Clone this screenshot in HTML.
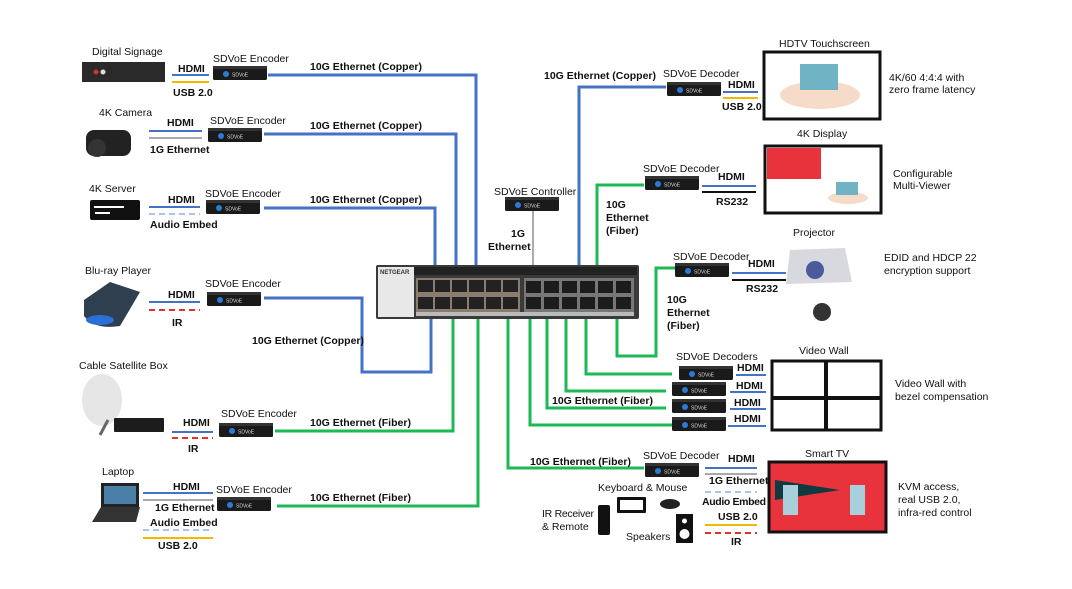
<!DOCTYPE html>
<html><head><meta charset="utf-8"><style>
html,body{margin:0;padding:0;background:#fff;}
svg{display:block;font-family:"Liberation Sans",sans-serif;}
.l{font-size:10.5px;fill:#111;}
.b{font-size:10.5px;font-weight:bold;fill:#111;}
</style></head><body>
<svg width="1072" height="589" viewBox="0 0 1072 589" xmlns="http://www.w3.org/2000/svg">
<defs>
<g id="enc">
<rect x="0" y="0" width="54" height="14" rx="1.5" fill="#1a1a1a"/>
<rect x="0" y="0" width="54" height="3" fill="#333"/>
<circle cx="13" cy="8" r="3" fill="#2b7bd6"/>
<text x="19" y="10.5" font-size="5" fill="#ddd">SDVoE</text>
</g>
</defs>

<g fill="none" stroke-width="3">
<path d="M268,75 H476 V265" stroke="#4472c4"/>
<path d="M264,134 H456 V265" stroke="#4472c4"/>
<path d="M264,208 H435 V265" stroke="#4472c4"/>
<path d="M264,298 H362 V372 H431 V319" stroke="#4472c4"/>
<path d="M275,431 H453 V319" stroke="#1db954"/>
<path d="M277,506 H478 V319" stroke="#1db954"/>
<path d="M508,319 V468 H644" stroke="#1db954"/>
<path d="M530,319 V425 H672" stroke="#1db954"/>
<path d="M547,319 V408 H666" stroke="#1db954"/>
<path d="M566,319 V391 H666" stroke="#1db954"/>
<path d="M586,319 V374 H672" stroke="#1db954"/>
<path d="M617,319 V356 H656 V268 H675" stroke="#1db954"/>
<path d="M579,265 V87 H666" stroke="#4472c4"/>
<path d="M597,265 V185 H644" stroke="#1db954"/>
</g>
<path d="M533,211 V265" stroke="#aaa" stroke-width="2"/>

<rect x="376" y="265" width="263" height="54" rx="2" fill="#3a3a3a"/>
<rect x="378" y="267" width="36" height="50" fill="#e8e8e8"/>
<text x="380" y="274" font-size="6" font-weight="bold" fill="#333">NETGEAR</text>
<rect x="414" y="267" width="223" height="8" fill="#222"/>
<rect x="416" y="278" width="104" height="34" fill="#8a7d70"/>
<g fill="#222">
<rect x="418" y="280" width="15" height="12"/><rect x="435" y="280" width="15" height="12"/><rect x="452" y="280" width="15" height="12"/><rect x="469" y="280" width="15" height="12"/><rect x="486" y="280" width="15" height="12"/><rect x="503" y="280" width="15" height="12"/>
<rect x="418" y="297" width="15" height="12"/><rect x="435" y="297" width="15" height="12"/><rect x="452" y="297" width="15" height="12"/><rect x="469" y="297" width="15" height="12"/><rect x="486" y="297" width="15" height="12"/><rect x="503" y="297" width="15" height="12"/>
</g>
<rect x="524" y="278" width="110" height="34" fill="#777"/>
<g fill="#1c1c1c">
<rect x="526" y="281" width="15" height="12"/><rect x="544" y="281" width="15" height="12"/><rect x="562" y="281" width="15" height="12"/><rect x="580" y="281" width="15" height="12"/><rect x="598" y="281" width="15" height="12"/><rect x="616" y="281" width="15" height="12"/>
<rect x="526" y="297" width="15" height="12"/><rect x="544" y="297" width="15" height="12"/><rect x="562" y="297" width="15" height="12"/><rect x="580" y="297" width="15" height="12"/><rect x="598" y="297" width="15" height="12"/><rect x="616" y="297" width="15" height="12"/>
</g>
<rect x="416" y="312" width="218" height="4" fill="#bbb"/>

<use href="#enc" x="213" y="66"/>
<use href="#enc" x="208" y="128"/>
<use href="#enc" x="206" y="200"/>
<use href="#enc" x="207" y="292"/>
<use href="#enc" x="219" y="423"/>
<use href="#enc" x="217" y="497"/>
<use href="#enc" x="505" y="197"/>
<use href="#enc" x="667" y="82"/>
<use href="#enc" x="645" y="176"/>
<use href="#enc" x="675" y="263"/>
<use href="#enc" x="679" y="366"/>
<use href="#enc" x="672" y="382"/>
<use href="#enc" x="672" y="399"/>
<use href="#enc" x="672" y="417"/>
<use href="#enc" x="645" y="463"/>

<rect x="82" y="62" width="83" height="20" fill="#2a2a2a"/>
<circle cx="96" cy="72" r="2.5" fill="#c33"/><circle cx="103" cy="72" r="2.5" fill="#ddd"/>
<rect x="86" y="130" width="45" height="26" rx="8" fill="#222"/><circle cx="97" cy="148" r="9" fill="#333"/>
<rect x="90" y="200" width="50" height="20" rx="2" fill="#111"/><rect x="94" y="206" width="30" height="2" fill="#fff"/><rect x="95" y="212" width="15" height="2" fill="#fff"/>
<path d="M84,300 L110,282 L140,292 L120,326 Q95,330 84,316 Z" fill="#2f3f4f"/><ellipse cx="100" cy="320" rx="14" ry="5" fill="#2b6fd8"/>
<ellipse cx="102" cy="400" rx="20" ry="26" fill="#e6e6e6"/>
<rect x="114" y="418" width="50" height="14" rx="1" fill="#1c1c1c"/>
<path d="M100,435 L108,420" stroke="#666" stroke-width="3"/>
<rect x="101" y="483" width="38" height="24" fill="#222"/><rect x="104" y="486" width="32" height="18" fill="#4a7fa8"/>
<path d="M92,522 L101,507 L140,507 L136,522 Z" fill="#333"/>

<g stroke-width="2" fill="none">
<path d="M172,75 H209" stroke="#4472c4"/><path d="M172,82 H209" stroke="#f5b800"/>
<path d="M149,131 H202" stroke="#4472c4"/><path d="M149,138 H202" stroke="#aaa"/>
<path d="M149,207 H200" stroke="#4472c4"/><path d="M149,214 H200" stroke="#a9c4ee" stroke-dasharray="6,4"/>
<path d="M149,302 H200" stroke="#4472c4"/><path d="M149,310 H200" stroke="#e53030" stroke-dasharray="6,4"/>
<path d="M172,432 H213" stroke="#4472c4"/><path d="M172,438 H213" stroke="#e53030" stroke-dasharray="6,4"/>
<path d="M143,493 H213" stroke="#4472c4"/><path d="M143,500 H213" stroke="#aaa"/>
<path d="M143,530 H213" stroke="#a9c4ee" stroke-dasharray="6,4"/><path d="M143,538 H213" stroke="#f5b800"/>
<path d="M723,92 H758" stroke="#4472c4"/><path d="M723,98 H758" stroke="#f5b800"/>
<path d="M702,186 H756" stroke="#4472c4"/><path d="M702,192 H756" stroke="#111"/>
<path d="M732,273 H786" stroke="#4472c4"/><path d="M732,280 H786" stroke="#111"/>
<path d="M736,375 H766" stroke="#4472c4"/><path d="M730,392 H766" stroke="#4472c4"/><path d="M730,409 H766" stroke="#4472c4"/><path d="M728,426 H766" stroke="#4472c4"/>
<path d="M705,468 H757" stroke="#4472c4"/><path d="M705,474 H757" stroke="#aaa"/>
<path d="M705,492 H757" stroke="#a9c4ee" stroke-dasharray="6,4"/><path d="M705,525 H757" stroke="#f5b800"/>
<path d="M705,533 H757" stroke="#e53030" stroke-dasharray="6,4"/>
</g>

<rect x="764" y="52" width="116" height="67" fill="#fff" stroke="#111" stroke-width="3"/>
<ellipse cx="820" cy="95" rx="40" ry="14" fill="#f6dcc8"/><rect x="800" y="64" width="38" height="26" fill="#6fb3c4"/>
<rect x="765" y="146" width="116" height="67" fill="#fff" stroke="#111" stroke-width="3"/>
<rect x="767" y="148" width="54" height="31" fill="#e8323c"/>
<ellipse cx="848" cy="198" rx="20" ry="6" fill="#f6dcc8"/><rect x="836" y="182" width="22" height="13" fill="#6fb3c4"/>
<path d="M790,250 L845,248 L852,282 L786,284 Z" fill="#d8d8df"/><circle cx="815" cy="270" r="9" fill="#4a5a9a"/>
<circle cx="822" cy="312" r="9" fill="#333"/>
<rect x="772" y="361" width="109" height="69" fill="#fff" stroke="#111" stroke-width="3"/>
<path d="M826,361 V430 M772,398 H881" stroke="#111" stroke-width="4"/>
<rect x="769" y="462" width="117" height="70" fill="#e8323c" stroke="#111" stroke-width="3"/>
<path d="M775,480 L840,490 L775,500 Z" fill="#0f3a40"/>
<rect x="783" y="485" width="15" height="30" fill="#a8d0dc"/><rect x="850" y="485" width="15" height="30" fill="#a8d0dc"/>
<rect x="617" y="497" width="29" height="16" rx="1" fill="#111"/><rect x="620" y="500" width="23" height="10" fill="#fff"/>
<ellipse cx="670" cy="504" rx="10" ry="5" fill="#222"/>
<rect x="598" y="505" width="12" height="30" rx="2" fill="#111"/>
<rect x="676" y="514" width="17" height="29" fill="#111"/><circle cx="684.5" cy="534" r="5" fill="#fff"/><circle cx="684.5" cy="521" r="2.5" fill="#fff"/>

<text class="l" x="92" y="55">Digital Signage</text>
<text class="l" x="213" y="62">SDVoE Encoder</text>
<text class="b" x="178" y="72">HDMI</text>
<text class="b" x="173" y="96">USB 2.0</text>
<text class="b" x="310" y="70">10G Ethernet (Copper)</text>
<text class="l" x="99" y="116">4K Camera</text>
<text class="l" x="210" y="124">SDVoE Encoder</text>
<text class="b" x="167" y="126">HDMI</text>
<text class="b" x="150" y="153">1G Ethernet</text>
<text class="b" x="310" y="129">10G Ethernet (Copper)</text>
<text class="l" x="89" y="192">4K Server</text>
<text class="l" x="205" y="197">SDVoE Encoder</text>
<text class="b" x="168" y="203">HDMI</text>
<text class="b" x="150" y="228">Audio Embed</text>
<text class="b" x="310" y="203">10G Ethernet (Copper)</text>
<text class="l" x="85" y="274">Blu-ray Player</text>
<text class="l" x="205" y="287">SDVoE Encoder</text>
<text class="b" x="168" y="298">HDMI</text>
<text class="b" x="172" y="326">IR</text>
<text class="b" x="252" y="344">10G Ethernet (Copper)</text>
<text class="l" x="79" y="369">Cable Satellite Box</text>
<text class="l" x="221" y="417">SDVoE Encoder</text>
<text class="b" x="183" y="426">HDMI</text>
<text class="b" x="188" y="452">IR</text>
<text class="b" x="310" y="426">10G Ethernet (Fiber)</text>
<text class="l" x="102" y="475">Laptop</text>
<text class="l" x="216" y="493">SDVoE Encoder</text>
<text class="b" x="173" y="490">HDMI</text>
<text class="b" x="155" y="511">1G Ethernet</text>
<text class="b" x="150" y="526">Audio Embed</text>
<text class="b" x="158" y="549">USB 2.0</text>
<text class="b" x="310" y="501">10G Ethernet (Fiber)</text>

<text class="l" x="494" y="195">SDVoE Controller</text>
<text class="b" x="511" y="237">1G</text>
<text class="b" x="488" y="250">Ethernet</text>

<text class="b" x="544" y="79">10G Ethernet (Copper)</text>
<text class="l" x="663" y="77">SDVoE Decoder</text>
<text class="b" x="728" y="88">HDMI</text>
<text class="b" x="722" y="110">USB 2.0</text>
<text class="l" x="779" y="47">HDTV Touchscreen</text>
<text class="l" x="889" y="81">4K/60 4:4:4 with</text>
<text class="l" x="889" y="93">zero frame latency</text>
<text class="l" x="797" y="137">4K Display</text>
<text class="l" x="643" y="172">SDVoE Decoder</text>
<text class="b" x="718" y="180">HDMI</text>
<text class="b" x="716" y="205">RS232</text>
<text class="l" x="893" y="177">Configurable</text>
<text class="l" x="893" y="189">Multi-Viewer</text>
<text class="b" x="606" y="208">10G</text>
<text class="b" x="606" y="221">Ethernet</text>
<text class="b" x="606" y="234">(Fiber)</text>
<text class="l" x="793" y="236">Projector</text>
<text class="l" x="673" y="260">SDVoE Decoder</text>
<text class="b" x="748" y="267">HDMI</text>
<text class="b" x="746" y="292">RS232</text>
<text class="l" x="884" y="261">EDID and HDCP 22</text>
<text class="l" x="884" y="274">encryption support</text>
<text class="b" x="667" y="303">10G</text>
<text class="b" x="667" y="316">Ethernet</text>
<text class="b" x="667" y="329">(Fiber)</text>
<text class="l" x="676" y="360">SDVoE Decoders</text>
<text class="l" x="799" y="354">Video Wall</text>
<text class="b" x="737" y="371">HDMI</text>
<text class="b" x="736" y="389">HDMI</text>
<text class="b" x="734" y="406">HDMI</text>
<text class="b" x="734" y="422">HDMI</text>
<text class="b" x="552" y="404">10G Ethernet (Fiber)</text>
<text class="l" x="895" y="387">Video Wall with</text>
<text class="l" x="895" y="400">bezel compensation</text>
<text class="b" x="530" y="465">10G Ethernet (Fiber)</text>
<text class="l" x="643" y="459">SDVoE Decoder</text>
<text class="b" x="728" y="462">HDMI</text>
<text class="b" x="709" y="484">1G Ethernet</text>
<text class="b" x="702" y="505" font-size="10" textLength="64">Audio Embed</text>
<text class="b" x="718" y="520">USB 2.0</text>
<text class="b" x="731" y="545">IR</text>
<text class="l" x="805" y="457">Smart TV</text>
<text class="l" x="898" y="490">KVM access,</text>
<text class="l" x="898" y="503">real USB 2.0,</text>
<text class="l" x="898" y="516">infra-red control</text>
<text class="l" x="598" y="491">Keyboard &amp; Mouse</text>
<text class="l" x="542" y="517" textLength="52">IR Receiver</text>
<text class="l" x="542" y="530">&amp; Remote</text>
<text class="l" x="626" y="540">Speakers</text>
</svg>
</body></html>
